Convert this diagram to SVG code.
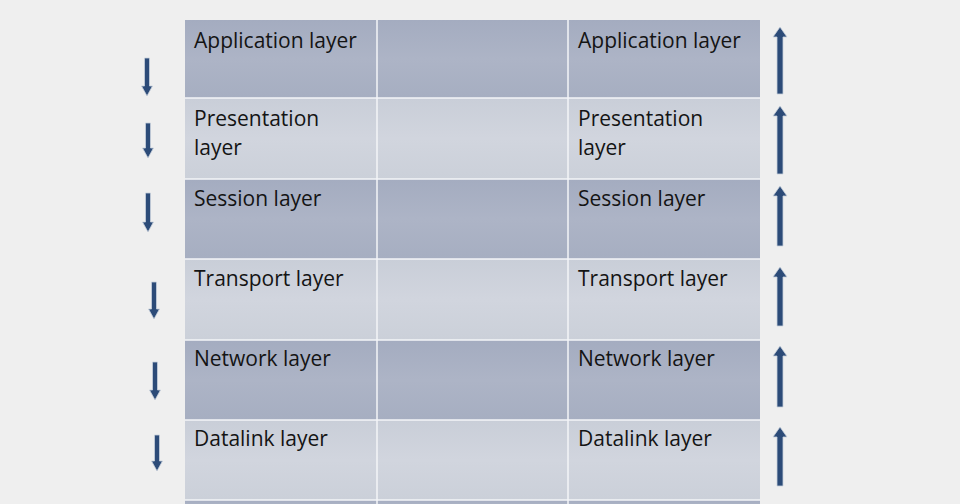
<svg xmlns="http://www.w3.org/2000/svg" width="960" height="504" viewBox="0 0 960 504">
  <defs>
    <linearGradient id="gDark" x1="0" y1="0" x2="0" y2="1">
      <stop offset="0" stop-color="#a4acc0"/>
      <stop offset="0.5" stop-color="#adb4c6"/>
      <stop offset="1" stop-color="#a6aec1"/>
    </linearGradient>
    <linearGradient id="gLight" x1="0" y1="0" x2="0" y2="1">
      <stop offset="0" stop-color="#c9ced8"/>
      <stop offset="0.5" stop-color="#d1d5de"/>
      <stop offset="1" stop-color="#cbd0d9"/>
    </linearGradient>
    <style>
      .dark { fill: url(#gDark); }
      .light { fill: url(#gLight); }
      .grid { stroke: #f4f5f8; stroke-width: 1.5; fill: none; }
      .lbl { font-family: "Open Sans", "Liberation Sans", sans-serif; font-size: 21px; fill: #141414; }
      .arr { fill: #2c4b78; stroke: #c8d0dc; stroke-width: 0.8; stroke-linejoin: miter; }
    </style>
  </defs>
  <rect x="0" y="0" width="960" height="504" fill="#efefef"/>

  <g id="table">
    <rect class="dark" x="185" y="20" width="575" height="78"/>
    <rect class="light" x="185" y="98" width="575" height="81"/>
    <rect class="dark" x="185" y="179" width="575" height="80"/>
    <rect class="light" x="185" y="259" width="575" height="81"/>
    <rect class="dark" x="185" y="340" width="575" height="80"/>
    <rect class="light" x="185" y="420" width="575" height="80"/>
    <rect class="dark" x="185" y="500" width="575" height="10"/>
    <path class="grid" d="M377 20V504 M568 20V504 M185 98H760 M185 179H760 M185 259H760 M185 340H760 M185 420H760 M185 500H760"/>
  </g>

  <g id="row-application">
    <text class="lbl" x="194" y="48">Application layer</text>
    <text class="lbl" x="578" y="48">Application layer</text>
  </g>
  <g id="row-presentation">
    <text class="lbl" x="194" y="126">Presentation</text>
    <text class="lbl" x="194" y="155">layer</text>
    <text class="lbl" x="578" y="126">Presentation</text>
    <text class="lbl" x="578" y="155">layer</text>
  </g>
  <g id="row-session">
    <text class="lbl" x="194" y="206">Session layer</text>
    <text class="lbl" x="578" y="206">Session layer</text>
  </g>
  <g id="row-transport">
    <text class="lbl" x="194" y="286">Transport layer</text>
    <text class="lbl" x="578" y="286">Transport layer</text>
  </g>
  <g id="row-network">
    <text class="lbl" x="194" y="366">Network layer</text>
    <text class="lbl" x="578" y="366">Network layer</text>
  </g>
  <g id="row-datalink">
    <text class="lbl" x="194" y="446">Datalink layer</text>
    <text class="lbl" x="578" y="446">Datalink layer</text>
  </g>

  <g id="connectors">
    <!-- down arrows (left) -->
    <path class="arr" d="M144.5 58H149.5V86H152.5L147 96L141.5 86H144.5Z"/>
    <path class="arr" d="M145.5 123H150.5V148H153.5L148 158L142.5 148H145.5Z"/>
    <path class="arr" d="M145.5 193H150.5V222H153.5L148 232L142.5 222H145.5Z"/>
    <path class="arr" d="M151.5 282H156.5V309H159.5L154 319L148.5 309H151.5Z"/>
    <path class="arr" d="M152.5 362H157.5V390H160.5L155 400L149.5 390H152.5Z"/>
    <path class="arr" d="M154.5 435H159.5V461H162.5L157 471L151.5 461H154.5Z"/>
    <!-- up arrows (right) -->
    <path class="arr" d="M777 94V37H773L780 27L787 37H783V94Z"/>
    <path class="arr" d="M777 174V116H773L780 106L787 116H783V174Z"/>
    <path class="arr" d="M777 246V196H773L780 186L787 196H783V246Z"/>
    <path class="arr" d="M777 326V277H773L780 267L787 277H783V326Z"/>
    <path class="arr" d="M777 407V356H773L780 346L787 356H783V407Z"/>
    <path class="arr" d="M777 486V437H773L780 427L787 437H783V486Z"/>
  </g>
</svg>
